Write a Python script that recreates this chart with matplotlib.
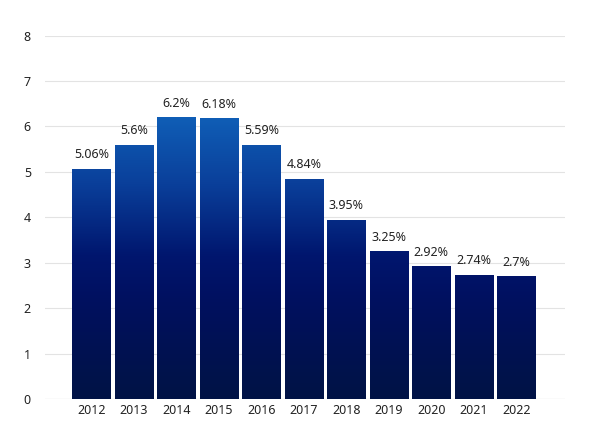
import matplotlib
matplotlib.use("Agg")
import matplotlib.pyplot as plt
import numpy as np
from matplotlib.colors import LinearSegmentedColormap

plt.rcParams['font.family'] = ['Noto Sans', 'DejaVu Sans']

years = ['2012','2013','2014','2015','2016','2017','2018','2019','2020','2021','2022']
values = [5.06, 5.6, 6.2, 6.18, 5.59, 4.84, 3.95, 3.25, 2.92, 2.74, 2.7]
labels = ['5.06%','5.6%','6.2%','6.18%','5.59%','4.84%','3.95%','3.25%','2.92%','2.74%','2.7%']

fig = plt.figure(figsize=(5.98, 4.33), dpi=100)
ax = fig.add_axes([0.075, 0.078, 0.87, 0.84])
x = np.arange(len(years))
bars = ax.bar(x, values, width=0.9, color='none', edgecolor='none', zorder=2)

cmap = LinearSegmentedColormap.from_list('g', [(0, '#001345'), (0.35, '#001060'), (0.5, '#00166e'), (0.75, '#0a3f9a'), (1, '#1060b8')])
grad = np.linspace(0, 1, 256).reshape(-1, 1)
for b in bars:
    im = ax.imshow(grad, cmap=cmap, origin='lower', aspect='auto',
                   extent=[b.get_x(), b.get_x() + b.get_width(), 0, 6.3], zorder=2)
    im.set_clip_path(b)
for xi, v, l in zip(x, values, labels):
    ax.text(xi, v + 0.17, l, ha='center', va='bottom', fontsize=9, color='#222222')

ax.set_xlim(-1.1, 11.15)
ax.set_ylim(0, 8)
ax.set_yticks(range(9))
ax.set_xticks(x)
ax.set_xticklabels(years)
ax.tick_params(length=0, labelsize=9, colors='#222222')
ax.tick_params(axis='y', pad=10)
ax.grid(axis='y', color='#e3e3e3', linewidth=0.8, zorder=0)
ax.set_axisbelow(True)
for s in ax.spines.values():
    s.set_visible(False)
ax.axhline(0, color='#cccccc', linewidth=0.8, zorder=1)
fig.savefig('out.png', dpi=100)
